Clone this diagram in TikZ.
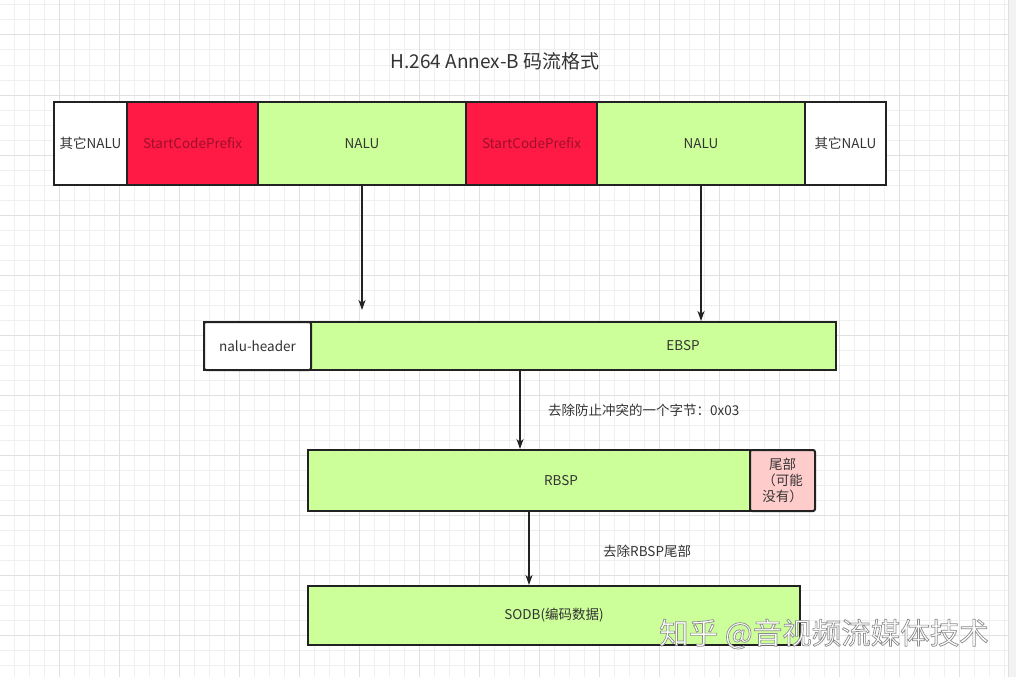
\documentclass[tikz,border=0pt]{standalone}
\usepackage{fontspec}
\setmainfont{Noto Sans CJK SC}
\usetikzlibrary{arrows.meta}
\definecolor{gridminor}{HTML}{EFEFEF}
\definecolor{gridmajor}{HTML}{E0E0E0}
\definecolor{boxgreen}{HTML}{CCFF99}
\definecolor{boxred}{HTML}{FF1A45}
\definecolor{boxpink}{HTML}{FFCCCC}
\definecolor{txt}{HTML}{333333}
\definecolor{redtxt}{HTML}{9E0F2A}
\definecolor{edge}{HTML}{222222}
\definecolor{band}{HTML}{F2F2F2}
\begin{document}
\begin{tikzpicture}[x=1pt,y=-1pt,
  cell/.style={draw=edge, line width=2pt, inner sep=0pt, text=txt, font=\fontsize{13.5}{16}\selectfont, anchor=center},
  whitebox/.style={cell, fill=white},
  redbox/.style={cell, fill=boxred, text=redtxt},
  greenbox/.style={cell, fill=boxgreen},
  pinkbox/.style={cell, fill=boxpink, rounded corners=2pt, align=center},
  flow/.style={draw=edge, line width=2pt, -{Stealth[length=10pt,width=7pt,inset=3pt]}},
  note/.style={text=txt, font=\fontsize{13.5}{16}\selectfont, anchor=west, inner sep=0pt},
  innertext/.style={text=txt, font=\fontsize{13.5}{16}\selectfont},
  wmtext/.style={font=\fontsize{29.5}{31}\selectfont, inner sep=0pt}
]
\useasboundingbox (0,0) rectangle (1016,677);
\fill[white] (0,0) rectangle (1016,677);
% grid
\foreach \x in {14,29,...,1004} \draw[gridminor, line width=1pt] (\x,0) -- (\x,677);
\foreach \y in {5,20,...,670} \draw[gridminor, line width=1pt] (0,\y) -- (1016,\y);
\foreach \x in {59,119,...,959} \draw[gridmajor, line width=1pt] (\x,0) -- (\x,677);
\foreach \y in {35,95,...,635} \draw[gridmajor, line width=1pt] (0,\y) -- (1016,\y);
\fill[band] (1008,0) rectangle (1016,677);
\draw[gridmajor, line width=1pt] (1008,0) -- (1008,677);

% title
\node[text=txt, font=\fontsize{19}{21}\selectfont] (title) at (495,61) {H.264 Annex-B 码流格式};

% top row
\node[whitebox, minimum width=73, minimum height=83] (oth1) at (90.5,143.5) {其它NALU};
\node[redbox, minimum width=131, minimum height=83] (scp1) at (192.5,143.5) {StartCodePrefix};
\node[greenbox, minimum width=208, minimum height=83] (nalu1) at (362,143.5) {NALU};
\node[redbox, minimum width=131, minimum height=83] (scp2) at (531.5,143.5) {StartCodePrefix};
\node[greenbox, minimum width=208, minimum height=83] (nalu2) at (701,143.5) {NALU};
\node[whitebox, minimum width=81, minimum height=83] (oth2) at (845.5,143.5) {其它NALU};

% EBSP row
\node[greenbox, minimum width=632, minimum height=48,
  label={[innertext, xshift=163pt]center:EBSP}] (ebsp) at (520,346) {};
\node[whitebox, rounded corners=2pt, minimum width=107, minimum height=48] (hdr) at (257.5,346) {nalu-header};

\coordinate (a1end) at (362,310);
\draw[flow] (nalu1.south) -- (a1end);
\draw[flow] (nalu2.south) -- (nalu2.south |- ebsp.north);

% RBSP row
\node[greenbox, minimum width=442, minimum height=61,
  label={[innertext, xshift=32pt]center:RBSP}] (rbsp) at (529,480.5) {};
\node[pinkbox, minimum width=65, minimum height=61] (tail) at (782.5,480.5) {尾部\\（可能\\没有）};
\draw[flow] (ebsp.south) -- (ebsp.south |- rbsp.north);
\node[note] (lab1) at (548,410) {去除防止冲突的一个字节：0x03};

% SODB row
\node[greenbox, minimum width=492, minimum height=59] (sodb) at (554,615.5) {SODB(编码数据)};
\draw[flow] (rbsp.south) -- (rbsp.south |- sodb.north);
\node[note] (lab2) at (603,551) {去除RBSP尾部};

% watermark
\node[wmtext, text=white] (wm) at (824,634) {\special{pdf:literal direct 2 Tr 0.7 w 0.55 G}知乎 @音视频流媒体技术\special{pdf:literal direct 0 Tr}};
\end{tikzpicture}
\end{document}
